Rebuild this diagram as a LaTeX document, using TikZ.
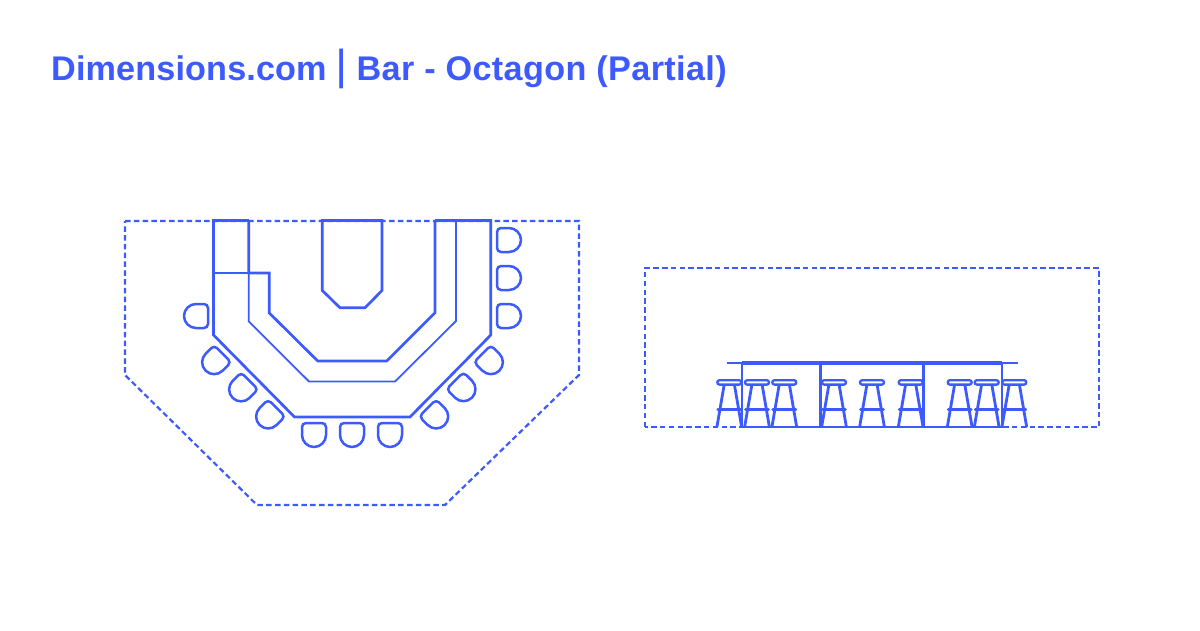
\documentclass[tikz,border=0pt]{standalone}
\usepackage{fontspec}
\setmainfont{Liberation Sans}
\definecolor{dimblue}{HTML}{3D5AFE}
\tikzset{
  outline/.style={draw=dimblue,line width=2.7pt,line join=miter},
  thinline/.style={draw=dimblue,line width=1.8pt,line join=miter},
  limit/.style={draw=dimblue,line width=2.2pt,dash pattern=on 5.5pt off 3.3pt},
  chair/.style={draw=dimblue,line width=2.5pt,fill=white},
  stoolpart/.style={draw=dimblue,line width=2.8pt,line cap=round}
}
\newcommand{\chairat}[3]{%
  \begin{scope}[shift={(#1,#2)},rotate=#3]
    \path[chair] (4,-12) -- (12,-12) .. controls (18.6,-12) and (24,-6.6) .. (24,0)
      .. controls (24,6.6) and (18.6,12) .. (12,12) -- (4,12)
      .. controls (1.8,12) and (0,10.2) .. (0,8) -- (0,-8)
      .. controls (0,-10.2) and (1.8,-12) .. (4,-12) -- cycle;
  \end{scope}}
\newcommand{\stoolat}[1]{%
  \begin{scope}[shift={(#1,0)}]
    \draw[stoolpart] (-5,384) -- (-12.3,426.5);
    \draw[stoolpart] (5,384) -- (12.3,426.5);
    \draw[stoolpart] (-11.5,409.7) -- (11.5,409.7);
    \draw[draw=dimblue,line width=2.3pt,fill=white,rounded corners=2.2pt] (-12,380.2) rectangle (12,384.6);
  \end{scope}}
\begin{document}
\begin{tikzpicture}[x=1pt,y=-1pt]
\useasboundingbox (0,0) rectangle (1200,630);
\node[anchor=base west,inner sep=0pt,text=dimblue,font=\fontsize{34.2}{34.2}\selectfont\bfseries] (title) at (51,80.7) {{\addfontfeature{LetterSpace=0.4}Dimensions.com}\hspace{11pt}\raisebox{1.7pt}{\scalebox{0.7}[1]{\fontsize{42}{42}\selectfont|}}\hspace{10.8pt}{\addfontfeature{LetterSpace=1.1}Bar - Octagon (Partial)}};
% plan limits
\draw[limit] (125,221) -- (579,221) -- (579,375) -- (445,505) -- (257,505) -- (125,375) -- cycle;
% elevation limits
\draw[limit] (645,427) -- (645,268) -- (1099,268) -- (1099,427) -- cycle;
% bar plan
\draw[outline] (248.8,220.5) -- (213.5,220.5) -- (213.5,335) -- (294.5,417) -- (410,417) -- (490.8,335) -- (490.8,220.5) -- (435,220.5);
\draw[outline] (248.8,220.5) -- (248.8,273) -- (269.3,273) -- (269.3,313) -- (317.7,361) -- (386.7,361) -- (435,312.7) -- (435,220.5);
\draw[thinline] (213.5,273) -- (248.8,273) -- (248.8,321.5) -- (309,381.5) -- (395,381.5) -- (456,321) -- (456,220.5);
\draw[outline] (322.3,220.5) -- (322.3,290.5) -- (340,307.8) -- (365,307.8) -- (382,290.5) -- (382,220.5) -- cycle;
% chairs
\chairat{497}{240}{0}
\chairat{497}{278}{0}
\chairat{497}{316}{0}
\chairat{208}{316}{180}
\chairat{314}{423}{-90}
\chairat{352}{423}{-90}
\chairat{390}{423}{-90}
\chairat{222.6}{353.7}{225}
\chairat{249.6}{380.9}{225}
\chairat{276.6}{408}{225}
\chairat{482.4}{353.7}{-45}
\chairat{455}{380.7}{-45}
\chairat{427.7}{408}{-45}
% elevation
\stoolat{729.3}\stoolat{757}\stoolat{784.3}\stoolat{834}\stoolat{872}\stoolat{910.7}\stoolat{959.7}\stoolat{986.7}\stoolat{1014.3}
\draw[draw=dimblue,line width=1.9pt] (741.7,363) -- (741.7,427);
\draw[draw=dimblue,line width=2.6pt] (820.3,363) -- (820.3,427);
\draw[draw=dimblue,line width=2.6pt] (923.5,363) -- (923.5,427);
\draw[draw=dimblue,line width=1.9pt] (1002.3,363) -- (1002.3,427);
\draw[draw=dimblue,line width=2.6pt] (741,426.8) -- (1003,426.8);
\draw[draw=dimblue,line width=2pt] (726.7,363.3) -- (1017.5,363.3);
\draw[draw=dimblue,line width=4pt] (741.7,363.3) -- (1002.3,363.3);
\end{tikzpicture}
\end{document}
